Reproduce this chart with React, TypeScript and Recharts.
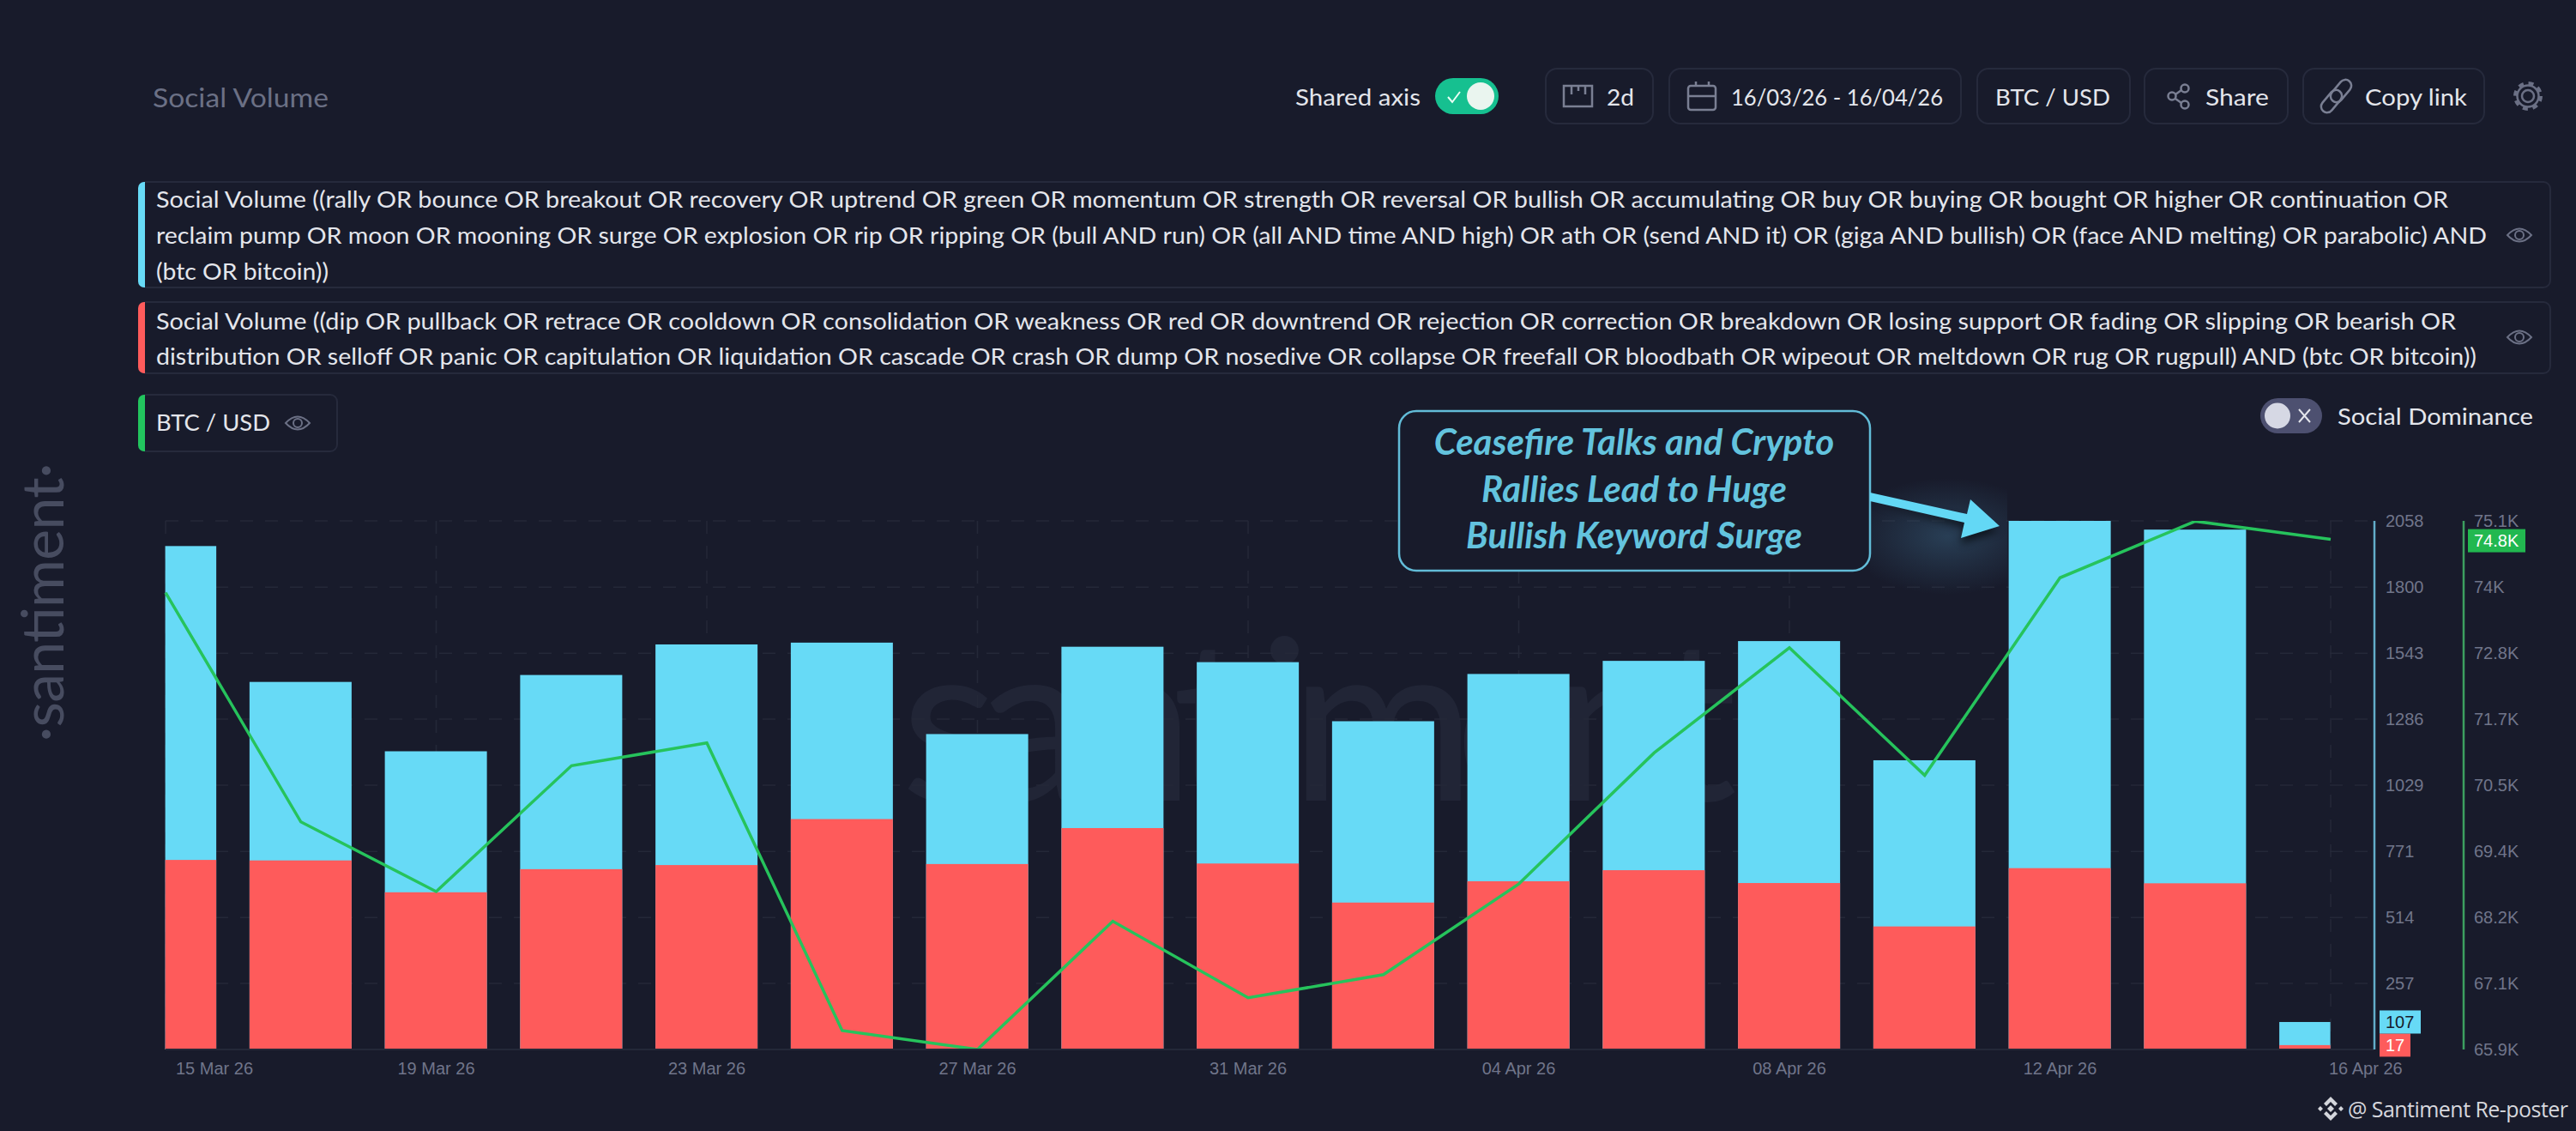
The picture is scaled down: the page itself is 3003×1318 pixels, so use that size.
import React from "react";
import { ComposedChart, Bar, Line, XAxis, YAxis, CartesianGrid } from "recharts";

const categories = ["15 Mar 26","17 Mar 26","19 Mar 26","21 Mar 26","23 Mar 26","25 Mar 26","27 Mar 26","29 Mar 26","31 Mar 26","02 Apr 26","04 Apr 26","06 Apr 26","08 Apr 26","10 Apr 26","12 Apr 26","14 Apr 26","16 Apr 26"];
const bullish = [1960,1431,1161,1458,1577,1584,1228,1568,1508,1278,1462,1513,1590,1126,2058,2024,107];
const bearish = [738,736,612,702,718,897,722,862,724,572,655,698,648,479,706,647,17];
const btcUsd = [73852,69861,68649,70839,71235,66230,65900,68132,66800,67202,68781,71061,72892,70671,74110,75094,74780];

const volGridTicks = [0,257,514,771,1029,1286,1543,1800,2058];
const volBadges: Record<number,[string,string,number]> = { 107:["#67daf6","#181b2b",48], 17:["#fe5b5b","#fff",36] };
const volTicks = [17,107,257,514,771,1029,1286,1543,1800,2058];
const btcTicks = [65900,67050,68200,69350,70500,71650,72800,73950,74800,75100];
const btcLabels: Record<number,string> = {65900:"65.9K",67050:"67.1K",68200:"68.2K",69350:"69.4K",70500:"70.5K",71650:"71.7K",72800:"72.8K",73950:"74K",74800:"74.8K",75100:"75.1K"};
const xTickIndexes = [0,2,4,6,8,10,12,14,16];

const box1Lines = [
  "Social Volume ((rally OR bounce OR breakout OR recovery OR uptrend OR green OR momentum OR strength OR reversal OR bullish OR accumulating OR buy OR buying OR bought OR higher OR continuation OR",
  "reclaim pump OR moon OR mooning OR surge OR explosion OR rip OR ripping OR (bull AND run) OR (all AND time AND high) OR ath OR (send AND it) OR (giga AND bullish) OR (face AND melting) OR parabolic) AND",
  "(btc OR bitcoin))",
];
const box2Lines = [
  "Social Volume ((dip OR pullback OR retrace OR cooldown OR consolidation OR weakness OR red OR downtrend OR rejection OR correction OR breakdown OR losing support OR fading OR slipping OR bearish OR",
  "distribution OR selloff OR panic OR capitulation OR liquidation OR cascade OR crash OR dump OR nosedive OR collapse OR freefall OR bloodbath OR wipeout OR meltdown OR rug OR rugpull) AND (btc OR bitcoin))",
];
const calloutLines = ["Ceasefire Talks and Crypto","Rallies Lead to Huge","Bullish Keyword Surge"];

const data = categories.map((date,i)=>({ i, date, bullish: bullish[i], bearish: bearish[i], btcUsd: btcUsd[i] }));

const BG = "#181b2b";
const UI = "Lato, 'Noto Sans', sans-serif";
const AX = "'Liberation Sans', Arial, sans-serif";
const TICK = "#70758a";
const ICON = "#7a7f93";

const halfBar = (fill: string) => (p: any) => {
  let { x, y, width, height, index } = p;
  if (index === 0) { x += width/2; width /= 2; }
  else if (index === categories.length-1) { width /= 2; }
  return <rect x={x} y={y} width={width} height={height} fill={fill} />;
};

const XTick = ({x,y,payload}: any) => {
  const i = payload.value;
  const last = categories.length-1;
  const anchor = i===0||i===last ? "start" : "middle";
  const dx = i===0 ? 12 : i===last ? -2 : 0;
  return <text x={x+dx} y={y+20} textAnchor={anchor} dominantBaseline="central" fontFamily={AX} fontSize={20} fill={TICK}>{categories[i]}</text>;
};
const VolTick = ({x,y,payload}: any) => {
  const b = volBadges[payload.value];
  if (b) return <g><rect x={x-7} y={y-13.5} width={b[2]} height={27} fill={b[0]} /><text x={x} y={y} dominantBaseline="central" fontFamily={AX} fontSize={20} fill={b[1]}>{payload.value}</text></g>;
  return <text x={x} y={y} dominantBaseline="central" fontFamily={AX} fontSize={20} fill={TICK}>{payload.value}</text>;
};
const BtcTick = ({x,y,payload}: any) => {
  const l = btcLabels[payload.value];
  if (payload.value===74800) return <g><rect x={x-7} y={y-10.5} width={67} height={27} fill="#22b850" /><text x={x} y={y+3} dominantBaseline="central" fontFamily={AX} fontSize={20} fill="#fff">{l}</text></g>;
  return <text x={x} y={y} dominantBaseline="central" fontFamily={AX} fontSize={20} fill={TICK}>{l}</text>;
};

const T = ({x,y,w,size=27.5,fill="#e4e6ec",children,...r}: any) => (
  <text x={x} y={y-2} dominantBaseline="central" fontFamily={UI} fontSize={size} fill={fill} textLength={w} lengthAdjust="spacingAndGlyphs" {...r}>{children}</text>
);
const Btn = ({x,x2}: any) => <rect x={x} y={80} width={x2-x} height={64} rx={13} fill="none" stroke="#262a3c" strokeWidth={2} />;
const Eye = ({cx,cy}: any) => (
  <g fill="none" stroke="#6b7085" strokeWidth={2}>
    <path d={`M${cx-14} ${cy} Q${cx} ${cy-15} ${cx+14} ${cy} Q${cx} ${cy+15} ${cx-14} ${cy} Z`} />
    <circle cx={cx} cy={cy} r={5} />
  </g>
);
const Panel = ({y,y2,x2,color}: any) => (
  <g>
    <rect x={163} y={y} width={x2-163} height={y2-y} rx={8} fill="none" stroke="#262a3c" strokeWidth={2} />
    <path d={`M169 ${y} h-1 a7 7 0 0 0 -7 7 v${y2-y-14} a7 7 0 0 0 7 7 h1 Z`} fill={color} />
  </g>
);

export default function App() {
  return (
    <div style={{position:"absolute",left:0,top:0,width:3003,height:1318,background:BG,overflow:"hidden"}}>
      <svg width={3003} height={1318} style={{position:"absolute",left:0,top:0}}>
        <text x={1050} y={933} fontFamily={UI} fontWeight={400} fontSize={262} fill="#212536" textLength={975} lengthAdjust="spacing">santiment</text>
      </svg>
      <div style={{position:"absolute",left:0,top:0}}>
        <ComposedChart width={3003} height={1318} data={data} barGap={-119} margin={{top:607,left:193,right:0,bottom:65}}>
          <CartesianGrid yAxisId="axisA" horizontalValues={volGridTicks} stroke="#242838" strokeWidth={1.5} strokeDasharray="15 14" />
          <XAxis dataKey="i" type="number" domain={[0,16]} ticks={xTickIndexes} interval={0} padding={{left:0,right:51}} height={30} tick={<XTick />} tickLine={false} tickSize={0} axisLine={{stroke:"#242838",strokeWidth:2}} />
          <YAxis yAxisId="axisA" orientation="right" width={104} domain={[0,2058]} ticks={volTicks} interval={0} tick={<VolTick />} tickLine={false} tickSize={0} tickMargin={13} axisLine={{stroke:"#62adc9",strokeWidth:2.5}} allowDataOverflow />
          <YAxis yAxisId="axisB" orientation="right" width={131} domain={[65900,75100]} ticks={btcTicks} interval={0} tick={<BtcTick />} tickLine={false} tickSize={0} tickMargin={12} axisLine={{stroke:"#3c9f60",strokeWidth:2.5}} allowDataOverflow />
          <Bar yAxisId="axisA" dataKey="bullish" barSize={119} fill="#67daf6" shape={halfBar("#67daf6")} isAnimationActive={false} />
          <Bar yAxisId="axisA" dataKey="bearish" barSize={119} fill="#fe5b5b" shape={halfBar("#fe5b5b")} isAnimationActive={false} />
          <Line yAxisId="axisB" dataKey="btcUsd" type="linear" stroke="#26c35c" strokeWidth={3.5} dot={false} activeDot={false} isAnimationActive={false} />
        </ComposedChart>
      </div>
      <svg width={3003} height={1318} style={{position:"absolute",left:0,top:0}}>
        <defs>
          <radialGradient id="glow"><stop offset="0%" stopColor="#3f6f8f" stopOpacity={0.42}/><stop offset="60%" stopColor="#3f6f8f" stopOpacity={0.16}/><stop offset="100%" stopColor="#3f6f8f" stopOpacity={0}/></radialGradient>
          <filter id="blur" x="-30%" y="-60%" width="160%" height="220%"><feGaussianBlur stdDeviation="5" /></filter>
          <clipPath id="glowClip"><path d="M2180 500 H2340 V760 H2180 Z" /></clipPath>
        </defs>

        <text x={178} y={113} dominantBaseline="central" fontFamily={UI} fontSize={31} fill="#6b7085" textLength={205} lengthAdjust="spacingAndGlyphs">Social Volume</text>

        <T x={1510} y={114} w={146}>Shared axis</T>
        <rect x={1673} y={91} width={74} height={42} rx={21} fill="#16c090" />
        <circle cx={1726} cy={112} r={16} fill="#eaf5ef" />
        <path d="M1688 113 l5 6 l9 -12" fill="none" stroke="#eafff5" strokeWidth={2} />

        <Btn x={1802} x2={1927} />
        <path d="M1823 100 h33 v24 h-33 Z M1832 100 v10 M1840 100 v6 M1848 100 v10" fill="none" stroke={ICON} strokeWidth={2.5} />
        <T x={1873} y={114} w={32}>2d</T>

        <Btn x={1946} x2={2286} />
        <path d="M1971 100 h26 a3 3 0 0 1 3 3 v22 a3 3 0 0 1 -3 3 h-26 a3 3 0 0 1 -3 -3 v-22 a3 3 0 0 1 3 -3 Z M1968 112 h32 M1977 95 v5 M1992 95 v5" fill="none" stroke={ICON} strokeWidth={2.5} />
        <T x={2018} y={114} w={247}>16/03/26 - 16/04/26</T>

        <Btn x={2305} x2={2483} />
        <T x={2326} y={114} w={134}>BTC / USD</T>

        <Btn x={2500} x2={2667} />
        <g fill="none" stroke={ICON} strokeWidth={2.5}>
          <circle cx={2547} cy={103} r={4.5}/><circle cx={2547} cy={122} r={4.5}/><circle cx={2532} cy={112} r={4.5}/>
          <path d="M2536 110 L2543 105 M2536 115 L2543 120"/>
        </g>
        <T x={2571} y={114} w={74}>Share</T>

        <Btn x={2685} x2={2896} />
        <g fill="none" stroke={ICON} strokeWidth={2.5}>
          <rect x={-15} y={-7} width={30} height={14} rx={7} transform="translate(2729 106) rotate(-50)" />
          <rect x={-15} y={-7} width={30} height={14} rx={7} transform="translate(2718 118) rotate(-50)" />
        </g>
        <T x={2757} y={114} w={119}>Copy link</T>

        <g fill="none" stroke="#6b7085">
          <circle cx={2947} cy={112} r={7} strokeWidth={2.5}/>
          <circle cx={2947} cy={112} r={12.5} strokeWidth={2.5}/>
          <circle cx={2947} cy={112} r={15} strokeWidth={4} strokeDasharray="6 5.8"/>
        </g>

        <Panel y={212} y2={335} x2={2973} color="#67daf6" />
        <T x={182} y={233} w={2672}>{box1Lines[0]}</T>
        <T x={182} y={275} w={2717}>{box1Lines[1]}</T>
        <T x={182} y={317} w={201}>{box1Lines[2]}</T>
        <Eye cx={2937} cy={274} />

        <Panel y={352} y2={435} x2={2973} color="#fe5b5b" />
        <T x={182} y={375} w={2681}>{box2Lines[0]}</T>
        <T x={182} y={416} w={2705}>{box2Lines[1]}</T>
        <Eye cx={2937} cy={393} />

        <Panel y={460} y2={526} x2={393} color="#22c55e" />
        <T x={182} y={493} w={133}>BTC / USD</T>
        <Eye cx={347} cy={493} />

        <rect x={2635} y={464} width={72} height={41} rx={20.5} fill="#4d5070" />
        <circle cx={2655} cy={484.5} r={15} fill="#d6d8e4" />
        <path d="M2680 477 l13 15 M2693 477 l-13 15" stroke="#e4e6ec" strokeWidth={2} />
        <T x={2725} y={486} w={228}>Social Dominance</T>

        <ellipse cx={2270} cy={625} rx={120} ry={68} fill="url(#glow)" clipPath="url(#glowClip)" />
        <rect x={1631} y={479} width={549} height={186} rx={20} fill={BG} stroke="#62bcd8" strokeWidth={2.5} />
        <g fontFamily={UI} fontWeight={700} fontStyle="italic" fontSize={42} fill="#63c3de" textAnchor="middle" dominantBaseline="central">
          <text x={1905} y={514}>{calloutLines[0]}</text>
          <text x={1905} y={569}>{calloutLines[1]}</text>
          <text x={1905} y={623}>{calloutLines[2]}</text>
        </g>
        <path d="M2182 586 L2290 614 L2286 634 L2331 618 L2300 606 Z" fill="#000" opacity={0.6} filter="url(#blur)" />
        <path d="M2180 574 L2293 599 L2297 582 L2331 613 L2286 627 L2290 609 L2180 584 Z" fill="#63d8f5" />

        <text transform="translate(47 702) rotate(-90)" textAnchor="middle" dominantBaseline="central" fontFamily={UI} fontWeight={400} fontSize={68} fill="#474c60" textLength={325} lengthAdjust="spacing">·santiment·</text>

        <path d="M2717 1278 L2725 1286 L2722 1289 L2717 1284 L2712 1289 L2709 1286 Z M2717 1306 L2725 1298 L2722 1295 L2717 1300 L2712 1295 L2709 1298 Z M2717 1288 l4 4 l-4 4 l-4 -4 Z M2705 1289 l3 3 l-3 3 l-3 -3 Z M2729 1289 l3 3 l-3 3 l-3 -3 Z" fill="#d4d6dc" />
        <text x={2737} y={1292} dominantBaseline="central" fontFamily="'Open Sans', sans-serif" fontSize={25} fill="#d6d7dd" textLength={257} lengthAdjust="spacing">@ Santiment Re-poster</text>
      </svg>
    </div>
  );
}
